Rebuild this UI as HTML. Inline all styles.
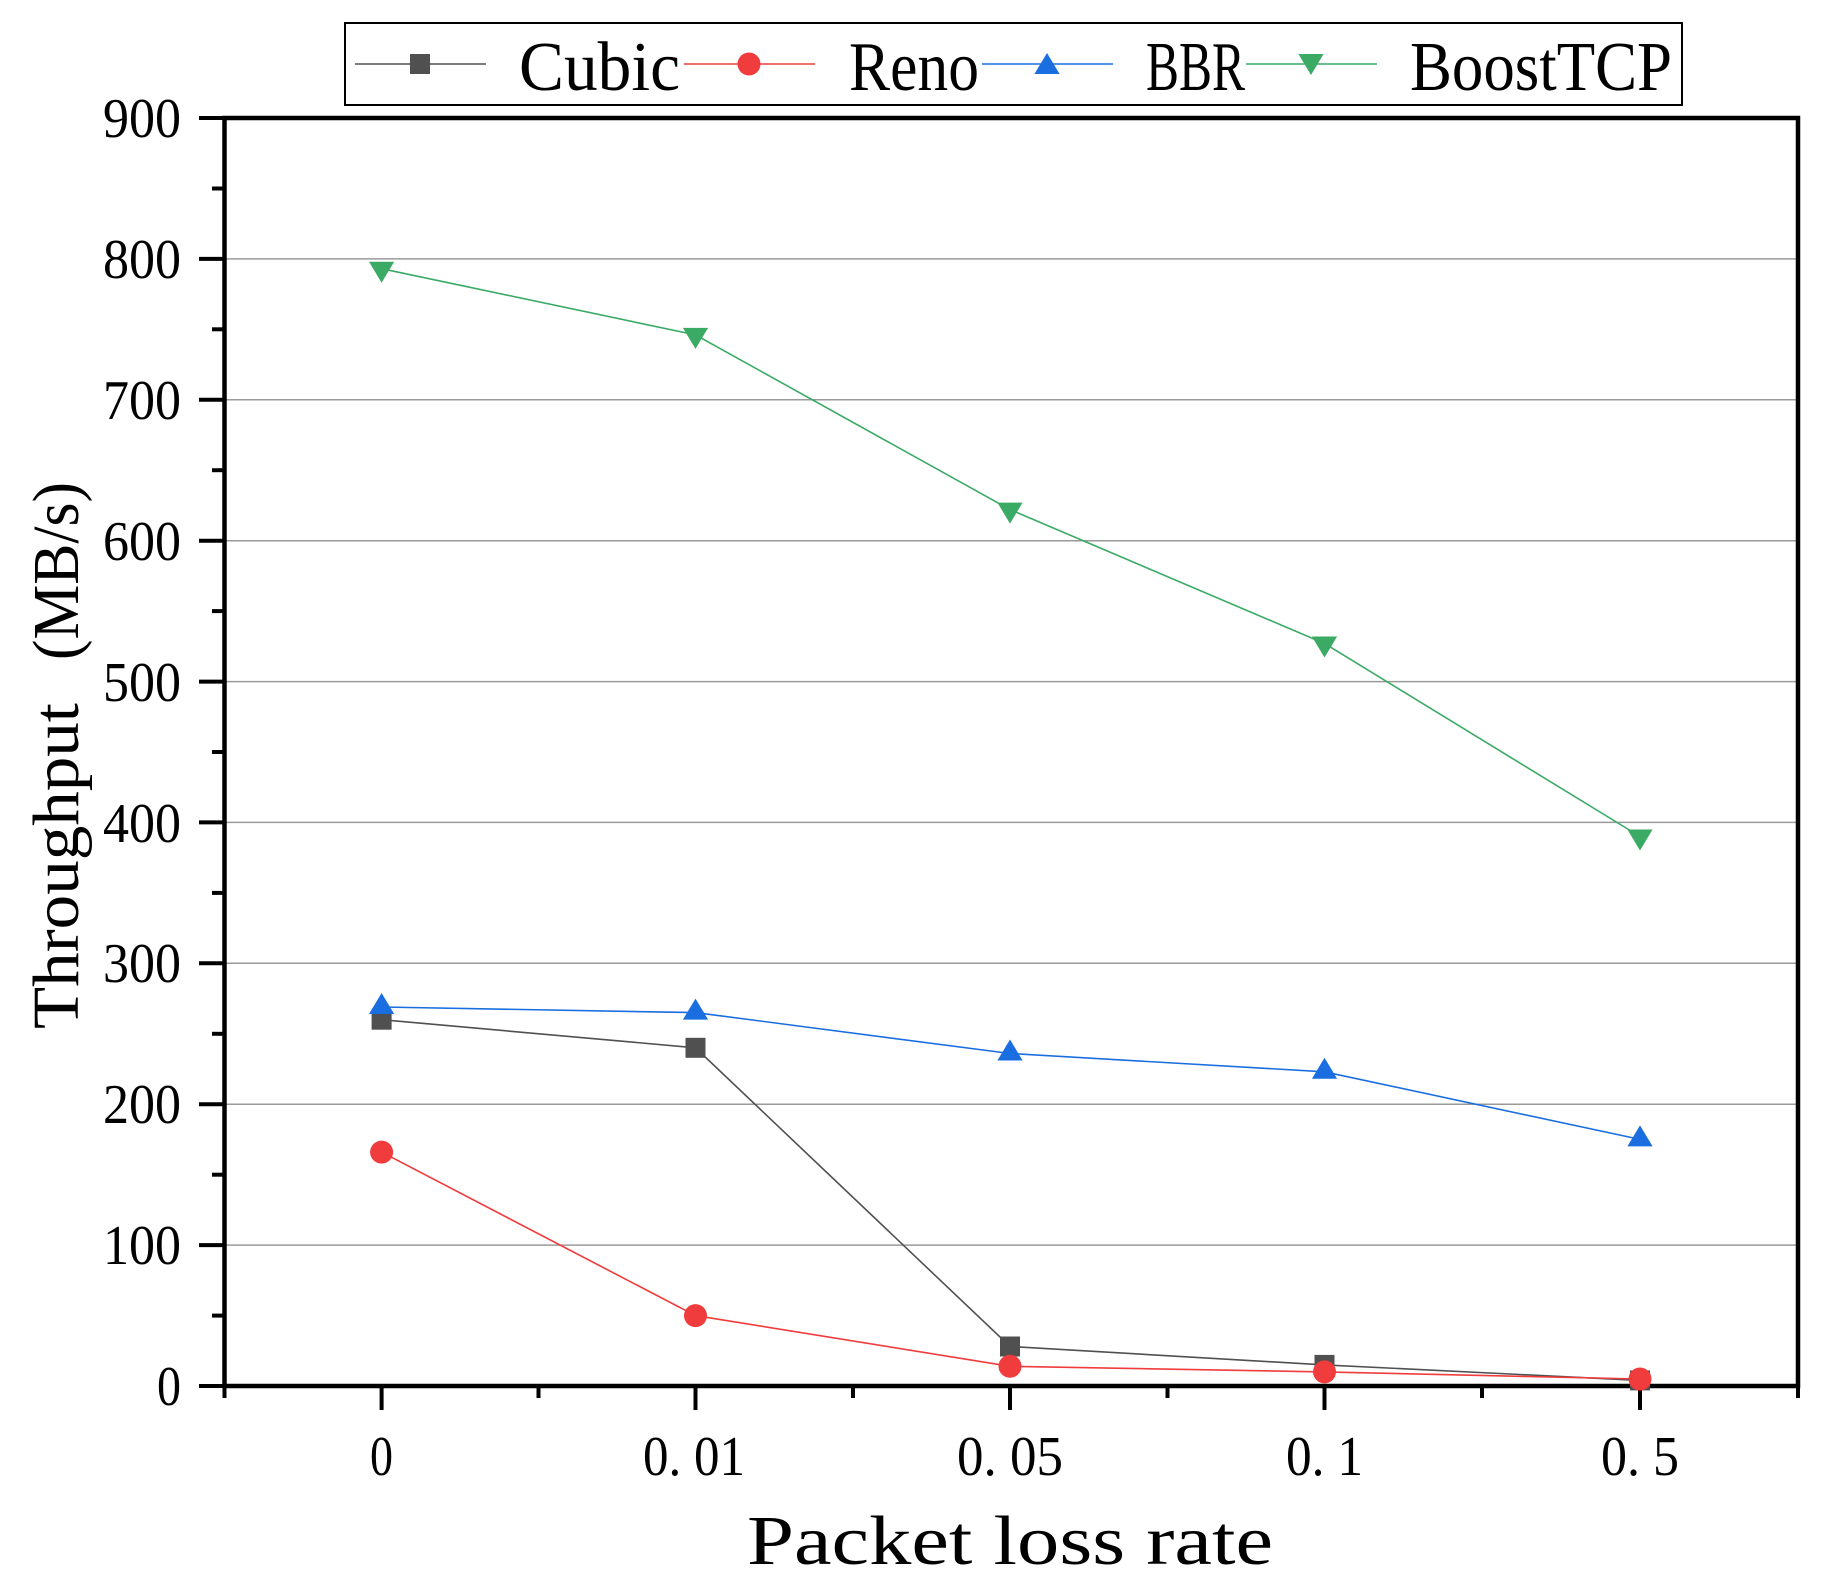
<!DOCTYPE html>
<html><head><meta charset="utf-8"><style>
html,body{margin:0;padding:0;background:#fff;}
svg{display:block;}
text{font-family:"Liberation Serif","Noto Serif CJK SC",serif;fill:#000;}
</style></head><body>
<svg width="1824" height="1589" viewBox="0 0 1824 1589" xmlns="http://www.w3.org/2000/svg">
<rect width="1824" height="1589" fill="#fff"/>
<g stroke="#9a9a9a" stroke-width="1.5">
<line x1="224" y1="258.9" x2="1798" y2="258.9"/>
<line x1="224" y1="399.8" x2="1798" y2="399.8"/>
<line x1="224" y1="540.7" x2="1798" y2="540.7"/>
<line x1="224" y1="681.6" x2="1798" y2="681.6"/>
<line x1="224" y1="822.4" x2="1798" y2="822.4"/>
<line x1="224" y1="963.3" x2="1798" y2="963.3"/>
<line x1="224" y1="1104.2" x2="1798" y2="1104.2"/>
<line x1="224" y1="1245.1" x2="1798" y2="1245.1"/>
</g>
<rect x="224.5" y="118" width="1573.5" height="1268" fill="none" stroke="#000" stroke-width="4.5"/>
<g stroke="#000" stroke-width="4">
<line x1="199" y1="118" x2="224" y2="118"/><line x1="212" y1="188.5" x2="224" y2="188.5"/>
<line x1="199" y1="258.9" x2="224" y2="258.9"/><line x1="212" y1="329.3" x2="224" y2="329.3"/>
<line x1="199" y1="399.8" x2="224" y2="399.8"/><line x1="212" y1="470.2" x2="224" y2="470.2"/>
<line x1="199" y1="540.7" x2="224" y2="540.7"/><line x1="212" y1="611.1" x2="224" y2="611.1"/>
<line x1="199" y1="681.6" x2="224" y2="681.6"/><line x1="212" y1="752" x2="224" y2="752"/>
<line x1="199" y1="822.4" x2="224" y2="822.4"/><line x1="212" y1="892.9" x2="224" y2="892.9"/>
<line x1="199" y1="963.3" x2="224" y2="963.3"/><line x1="212" y1="1033.8" x2="224" y2="1033.8"/>
<line x1="199" y1="1104.2" x2="224" y2="1104.2"/><line x1="212" y1="1174.7" x2="224" y2="1174.7"/>
<line x1="199" y1="1245.1" x2="224" y2="1245.1"/><line x1="212" y1="1315.6" x2="224" y2="1315.6"/>
<line x1="199" y1="1386" x2="224" y2="1386"/>
<line x1="224.5" y1="1386" x2="224.5" y2="1398"/>
<line x1="381.6" y1="1386" x2="381.6" y2="1410"/>
<line x1="538.5" y1="1386" x2="538.5" y2="1398"/>
<line x1="695.5" y1="1386" x2="695.5" y2="1410"/>
<line x1="853" y1="1386" x2="853" y2="1398"/>
<line x1="1010" y1="1386" x2="1010" y2="1410"/>
<line x1="1167.5" y1="1386" x2="1167.5" y2="1398"/>
<line x1="1324.5" y1="1386" x2="1324.5" y2="1410"/>
<line x1="1482" y1="1386" x2="1482" y2="1398"/>
<line x1="1640" y1="1386" x2="1640" y2="1410"/>
<line x1="1798" y1="1386" x2="1798" y2="1398"/>
</g>
<g font-size="56" text-anchor="end">
<text x="181" y="137" textLength="78" lengthAdjust="spacingAndGlyphs">900</text>
<text x="181" y="278" textLength="78" lengthAdjust="spacingAndGlyphs">800</text>
<text x="181" y="419" textLength="78" lengthAdjust="spacingAndGlyphs">700</text>
<text x="181" y="560" textLength="78" lengthAdjust="spacingAndGlyphs">600</text>
<text x="181" y="701" textLength="78" lengthAdjust="spacingAndGlyphs">500</text>
<text x="181" y="842" textLength="78" lengthAdjust="spacingAndGlyphs">400</text>
<text x="181" y="982" textLength="78" lengthAdjust="spacingAndGlyphs">300</text>
<text x="181" y="1123" textLength="78" lengthAdjust="spacingAndGlyphs">200</text>
<text x="181" y="1264" textLength="78" lengthAdjust="spacingAndGlyphs">100</text>
<text x="181" y="1405" textLength="24" lengthAdjust="spacingAndGlyphs">0</text>
</g>
<g font-size="56">
<text x="370" y="1475" textLength="23" lengthAdjust="spacingAndGlyphs">0</text>
<text x="643" y="1475" textLength="102" lengthAdjust="spacingAndGlyphs">0. 01</text>
<text x="957" y="1475" textLength="106" lengthAdjust="spacingAndGlyphs">0. 05</text>
<text x="1286" y="1475" textLength="77" lengthAdjust="spacingAndGlyphs">0. 1</text>
<text x="1601" y="1475" textLength="78" lengthAdjust="spacingAndGlyphs">0. 5</text>
</g>
<text x="747" y="1564" font-size="70" textLength="526" lengthAdjust="spacingAndGlyphs">Packet loss rate</text>
<text transform="translate(78,1029) rotate(-90)" font-size="66" textLength="326" lengthAdjust="spacingAndGlyphs">Throughput</text>
<text transform="translate(78,660) rotate(-90)" font-size="66" textLength="178" lengthAdjust="spacingAndGlyphs">(MB/s)</text>
<polyline fill="none" stroke="#3aaa65" stroke-width="1.6" points="381.6,268.7 695.5,334.9 1010,509.6 1324.5,643.5 1640,836.5"/>
<polyline fill="none" stroke="#1a6ee0" stroke-width="1.6" points="381.6,1007 695.5,1012.6 1010,1053.5 1324.5,1071.8 1640,1139.4"/>
<polyline fill="none" stroke="#505050" stroke-width="1.6" points="381.6,1019.7 695.5,1047.8 1010,1346.5 1324.5,1364.9 1640,1380.4"/>
<polyline fill="none" stroke="#f03c3c" stroke-width="1.6" points="381.6,1152.1 695.5,1315.6 1010,1366.3 1324.5,1371.9 1640,1379"/>
<g fill="#505050">
<rect x="371.6" y="1009.7" width="20" height="20"/><rect x="685.5" y="1037.8" width="20" height="20"/>
<rect x="1000" y="1336.5" width="20" height="20"/><rect x="1314.5" y="1354.9" width="20" height="20"/>
<rect x="1630" y="1370.4" width="20" height="20"/>
</g>
<g fill="#f03c3c">
<circle cx="381.6" cy="1152.1" r="11.5"/><circle cx="695.5" cy="1315.6" r="11.5"/>
<circle cx="1010" cy="1366.3" r="11.5"/><circle cx="1324.5" cy="1371.9" r="11.5"/>
<circle cx="1640" cy="1379" r="11.5"/>
</g>
<g fill="#1a6ee0">
<polygon points="381.6,993 369,1014 394.2,1014"/><polygon points="695.5,998.6 682.9,1019.6 708.1,1019.6"/>
<polygon points="1010,1039.5 997.4,1060.5 1022.6,1060.5"/><polygon points="1324.5,1057.8 1311.9,1078.8 1337.1,1078.8"/>
<polygon points="1640,1125.4 1627.4,1146.4 1652.6,1146.4"/>
</g>
<g fill="#3aaa65">
<polygon points="381.6,282.7 369,261.7 394.2,261.7"/><polygon points="695.5,348.9 682.9,327.9 708.1,327.9"/>
<polygon points="1010,523.6 997.4,502.6 1022.6,502.6"/><polygon points="1324.5,657.5 1311.9,636.5 1337.1,636.5"/>
<polygon points="1640,850.5 1627.4,829.5 1652.6,829.5"/>
</g>
<rect x="345" y="23" width="1337" height="82" fill="#fff" stroke="#000" stroke-width="2"/>
<g stroke-width="1.6">
<line x1="355" y1="64" x2="486" y2="64" stroke="#505050"/>
<line x1="684" y1="64" x2="815" y2="64" stroke="#f03c3c"/>
<line x1="982" y1="64" x2="1113" y2="64" stroke="#1a6ee0"/>
<line x1="1246" y1="64" x2="1377" y2="64" stroke="#3aaa65"/>
</g>
<rect x="410" y="54" width="20" height="20" fill="#505050"/>
<circle cx="749" cy="64" r="11.5" fill="#f03c3c"/>
<polygon points="1047,53 1034.4,74 1059.6,74" fill="#1a6ee0"/>
<polygon points="1311,75 1298.4,54 1323.6,54" fill="#3aaa65"/>
<g font-size="70">
<text x="519" y="90" textLength="161" lengthAdjust="spacingAndGlyphs">Cubic</text>
<text x="849" y="90" textLength="130" lengthAdjust="spacingAndGlyphs">Reno</text>
<text x="1146" y="90" textLength="99" lengthAdjust="spacingAndGlyphs">BBR</text>
<text x="1410" y="90" textLength="262" lengthAdjust="spacingAndGlyphs">BoostTCP</text>
</g>
</svg>
</body></html>
